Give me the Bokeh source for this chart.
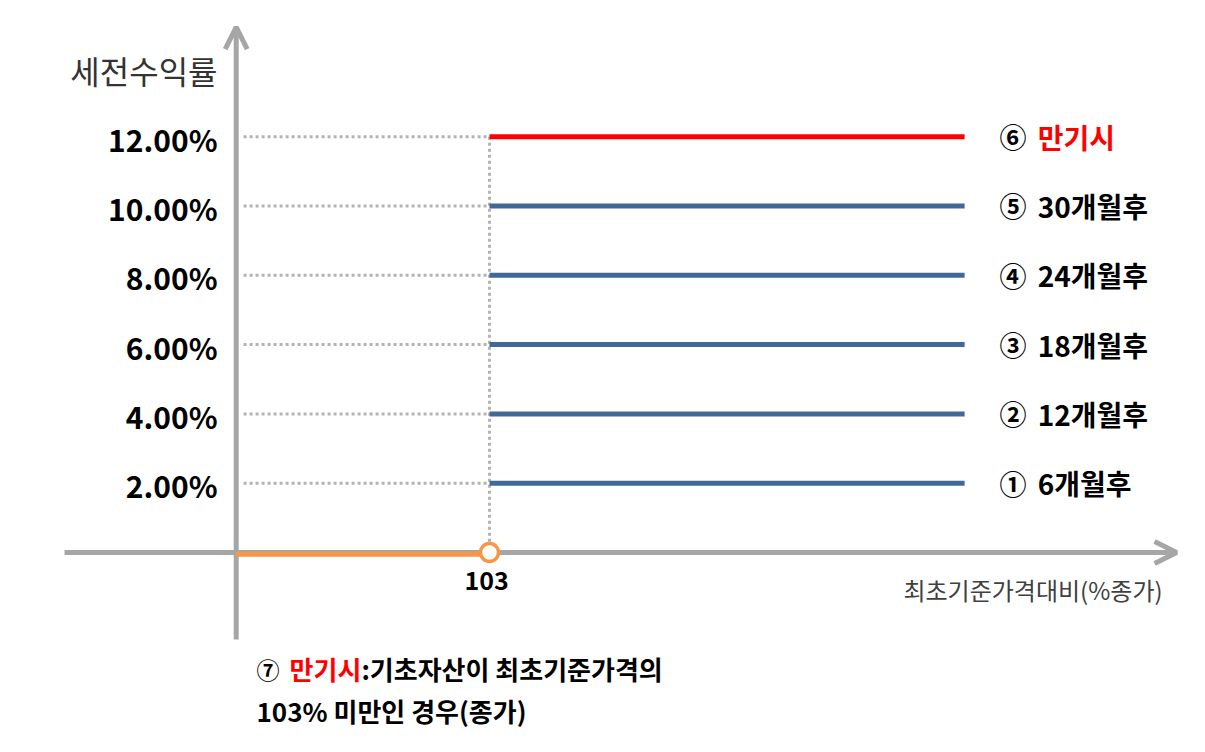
from bokeh.plotting import figure
from bokeh.models import Range1d, Arrow, OpenHead
from bokeh.core.properties import value
from bokeh.embed import file_html
from bokeh.resources import INLINE

# ---------------- data ----------------
coupon_levels = [2, 4, 6, 8, 10, 12]
tick_labels = ["2.00%", "4.00%", "6.00%", "8.00%", "10.00%", "12.00%"]
circled_nums = ["①", "②", "③", "④", "⑤", "⑥"]
period_labels = ["6개월후", "12개월후", "18개월후", "24개월후", "30개월후", "만기시"]
barrier = 103
barrier_label = "103"
y_title = "세전수익률"
x_title = "최초기준가격대비(%종가)"
note_num = "⑦"
note_red = "만기시"
note_rest = ":기초자산이 최초기준가격의"
note_line2 = "103% 미만인 경우(종가)"

# ---------------- layout (data units) ----------------
X_LEFT, X_RIGHT = -95.85, 387.65
Y_BOTTOM, Y_TOP = -5.31, 15.93
X_AXIS_START, X_AXIS_END = -69.8, 382.4
Y_AXIS_START, Y_AXIS_END = -2.51, 15.16
LINE_END = 296.2
DOT_START = 3.0
TICK_LABEL_X = -7.6
NUM_X, TXT_X = 310.4, 325.9
FONT = "Noto Sans CJK KR"

GREY = "#A6A6A6"
DOT_GREY = "#B3B3B3"
BLUE = "#41679B"
RED = "#FF0000"
ORANGE = "#F79646"

p = figure(width=1189, height=736, x_range=Range1d(X_LEFT, X_RIGHT),
           y_range=Range1d(Y_BOTTOM, Y_TOP), output_backend="svg",
           toolbar_location=None, min_border=0,
           x_axis_location=None, y_axis_location=None)
p.grid.visible = False
p.outline_line_color = None
p.background_fill_color = "white"

# axes with arrows (drawn beneath the glyphs)
p.add_layout(Arrow(end=OpenHead(size=22, line_width=5, line_color=GREY),
                   x_start=X_AXIS_START, y_start=0, x_end=X_AXIS_END, y_end=0,
                   line_color=GREY, line_width=5, level="underlay"))
p.add_layout(Arrow(end=OpenHead(size=22, line_width=5, line_color=GREY),
                   x_start=0, y_start=Y_AXIS_START, x_end=0, y_end=Y_AXIS_END,
                   line_color=GREY, line_width=5, level="underlay"))

# dotted guides
n = len(coupon_levels)
p.segment(x0=[DOT_START] * n, y0=coupon_levels, x1=[barrier] * n, y1=coupon_levels,
          line_color=DOT_GREY, line_width=3, line_dash="3 3")
p.segment(x0=[barrier], y0=[max(coupon_levels)], x1=[barrier], y1=[0.3],
          line_color=DOT_GREY, line_width=3, line_dash="3 3")

# payoff level lines
colors = [BLUE] * (n - 1) + [RED]
label_colors = ["#000000"] * (n - 1) + [RED]
p.segment(x0=[barrier] * n, y0=coupon_levels, x1=[LINE_END] * n, y1=coupon_levels,
          line_color=colors, line_width=5)

# orange segment below barrier and open circle
p.segment(x0=[0], y0=[-0.05], x1=[barrier], y1=[-0.05], line_color=ORANGE, line_width=5)
p.scatter(x=[barrier], y=[0], size=18, marker="circle", fill_color="white",
          line_color=ORANGE, line_width=3.5)

# y tick labels
p.text(x=[TICK_LABEL_X] * n, y=coupon_levels, text=tick_labels, text_align="right",
       text_baseline="middle", text_font=value(FONT), text_font_style="bold",
       text_font_size="30px", text_color="#000000", y_offset=2)

# y title
p.text(x=[TICK_LABEL_X], y=[13.91], text=[y_title], text_align="right",
       text_baseline="middle", text_font=value(FONT), text_font_size="32px",
       text_color="#333333")

# right labels
p.text(x=[NUM_X] * n, y=coupon_levels, text=circled_nums, text_align="left",
       text_baseline="middle", text_font=value(FONT), text_font_style="bold",
       text_font_size="27px", text_color="#000000")
p.text(x=[TXT_X] * n, y=coupon_levels, text=period_labels, text_align="left",
       text_baseline="middle", text_font=value(FONT), text_font_style="bold",
       text_font_size="28px", text_color=label_colors)

# barrier label
p.text(x=[barrier], y=[-0.8], text=[barrier_label], text_align="center",
       text_baseline="middle", text_font=value(FONT), text_font_style="bold",
       text_font_size="25px", text_color="#000000", x_offset=-3)

# x title
p.text(x=[376.7], y=[-1.07], text=[x_title], text_align="right",
       text_baseline="middle", text_font=value(FONT), text_font_size="24px",
       text_color="#404040")

# note
p.text(x=[8.26], y=[-3.35], text=[note_num], text_align="left", text_baseline="middle",
       text_font=value(FONT), text_font_style="bold", text_font_size="23px", text_color="#000000")
p.text(x=[21.7], y=[-3.35], text=[note_red], text_align="left", text_baseline="middle",
       text_font=value(FONT), text_font_style="bold", text_font_size="26px", text_color=RED)
p.text(x=[50.9], y=[-3.35], text=[note_rest], text_align="left", text_baseline="middle",
       text_font=value(FONT), text_font_style="bold", text_font_size="26px", text_color="#000000")
p.text(x=[8.26], y=[-4.56], text=[note_line2], text_align="left", text_baseline="middle",
       text_font=value(FONT), text_font_style="bold", text_font_size="26px", text_color="#000000")

open("out.html", "w").write(file_html(p, INLINE))
